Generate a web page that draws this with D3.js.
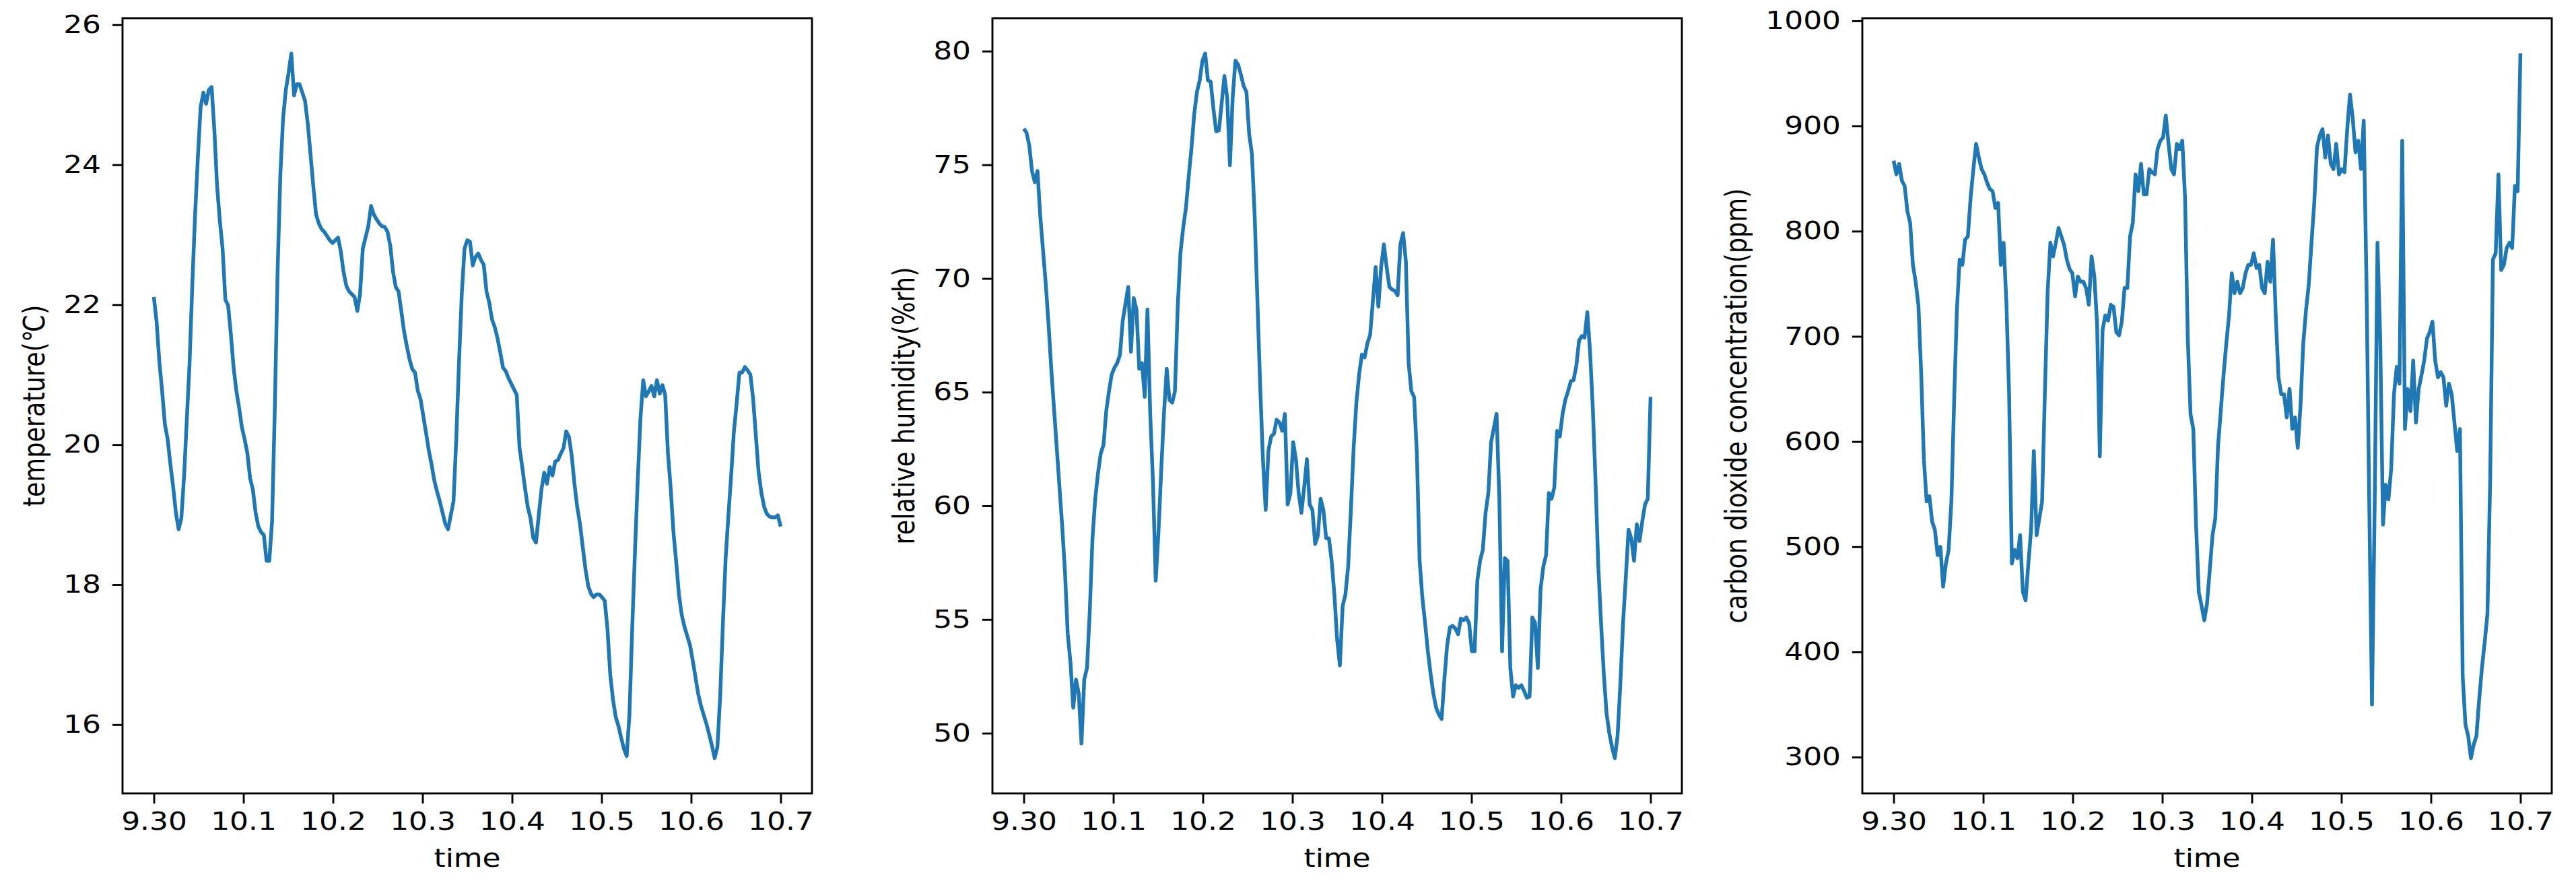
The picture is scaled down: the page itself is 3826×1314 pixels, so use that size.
<!DOCTYPE html>
<html>
<head>
<meta charset="utf-8">
<title>temperature / humidity / CO2</title>
<script src="https://cdn.jsdelivr.net/npm/d3@7/dist/d3.min.js"></script>
<style>
  body { margin:0; background:#fff; }
  svg { display:block; background:#fff; }
</style>
</head>
<body>
<svg></svg>
<script>
// day labels on the x axis (one tick per day)
var xTickLabels = ["9.30","10.1","10.2","10.3","10.4","10.5","10.6","10.7"];

// readings, evenly spaced in time from 9.30 to 10.7
var temperature = [
 22.11,21.75,21.18,20.77,20.29,20.08,19.72,19.40,19.03,18.79,
 18.95,19.56,20.37,21.18,22.31,23.29,24.10,24.82,25.03,24.87,
 25.07,25.11,24.50,23.69,23.20,22.80,22.07,21.99,21.58,21.10,
 20.77,20.53,20.25,20.08,19.88,19.52,19.36,19.03,18.83,18.75,
 18.71,18.34,18.34,18.91,20.53,22.47,23.85,24.66,25.07,25.31,
 25.59,24.99,25.15,25.15,25.03,24.91,24.58,24.14,23.69,23.29,
 23.16,23.08,23.04,22.98,22.92,22.88,22.92,22.96,22.76,22.47,
 22.27,22.19,22.15,22.11,21.91,22.15,22.80,22.96,23.12,23.41,
 23.29,23.22,23.16,23.12,23.11,23.04,22.84,22.47,22.25,22.19,
 21.91,21.62,21.41,21.22,21.08,21.03,20.77,20.65,20.41,20.17,
 19.92,19.72,19.49,19.33,19.19,19.03,18.87,18.79,18.99,19.19,
 20.08,21.18,22.15,22.80,22.92,22.90,22.56,22.68,22.73,22.64,
 22.57,22.19,22.03,21.79,21.68,21.52,21.32,21.10,21.05,20.95,
 20.87,20.79,20.71,19.96,19.68,19.38,19.11,18.95,18.67,18.60,
 18.99,19.36,19.60,19.44,19.68,19.56,19.76,19.78,19.87,19.95,
 20.19,20.11,19.84,19.44,19.11,18.87,18.54,18.22,17.98,17.87,
 17.82,17.86,17.86,17.82,17.77,17.37,16.72,16.36,16.11,15.98,
 15.81,15.65,15.55,16.15,17.37,18.46,19.48,20.37,20.92,20.69,
 20.76,20.84,20.69,20.92,20.73,20.85,20.71,19.88,19.38,18.75,
 18.33,17.86,17.57,17.40,17.27,17.14,16.92,16.68,16.44,16.27,
 16.14,16.01,15.86,15.70,15.52,15.68,16.40,17.45,18.38,18.99,
 19.56,20.19,20.59,21.03,21.03,21.11,21.06,21.00,20.65,20.12,
 19.60,19.31,19.11,19.01,18.97,18.96,18.96,18.99,18.83];

var humidity = [
 76.59,76.42,75.85,74.73,74.23,74.73,72.74,71.25,69.76,68.02,
 66.03,64.29,62.55,60.81,59.07,57.08,54.35,53.10,51.12,52.36,
 51.74,49.55,52.36,52.86,55.34,58.57,60.31,61.43,62.30,62.67,
 64.17,65.04,65.78,66.08,66.28,66.65,68.14,68.89,69.63,66.78,
 69.14,68.64,66.03,66.28,64.79,68.64,64.04,61.06,56.71,58.82,
 61.56,64.04,66.03,64.66,64.54,65.04,68.76,71.13,72.24,73.11,
 74.48,75.72,77.22,78.21,78.71,79.58,79.90,78.71,78.66,77.46,
 76.47,76.52,77.71,78.91,77.96,74.98,77.96,79.58,79.40,78.96,
 78.46,78.21,76.35,75.48,72.74,69.01,65.28,62.05,59.82,62.43,
 63.05,63.17,63.79,63.67,63.30,64.04,60.06,60.56,62.80,62.05,
 60.56,59.69,60.81,62.05,60.06,59.82,58.32,58.70,60.31,59.82,
 58.57,58.57,57.58,56.09,54.10,52.98,55.59,56.09,57.33,59.82,
 62.55,64.54,65.78,66.65,66.53,67.15,67.52,69.01,70.50,68.76,
 70.50,71.50,70.50,69.63,69.51,69.46,69.26,71.50,72.00,70.75,
 66.28,65.04,64.79,62.30,57.58,55.96,54.84,53.60,52.61,51.74,
 51.12,50.82,50.62,52.36,53.85,54.65,54.72,54.60,54.35,55.04,
 54.97,55.09,54.84,53.60,53.60,56.71,57.58,58.08,59.69,60.56,
 62.80,63.42,64.04,60.31,53.60,57.70,57.58,52.86,51.61,52.11,
 51.99,52.11,51.86,51.56,51.61,55.09,54.84,52.86,56.34,57.33,
 57.83,60.56,60.31,60.81,63.30,63.05,64.04,64.66,65.04,65.48,
 65.53,66.15,67.27,67.47,67.40,68.52,66.78,64.29,61.06,57.33,
 54.84,52.61,50.87,50.00,49.38,48.90,49.87,52.11,54.84,56.83,
 58.95,58.57,57.58,59.19,58.45,59.32,60.06,60.31,64.79];

var co2 = [
 867,854,864,848,843,819,808,768,752,730,
 666,583,543,548,524,516,492,500,462,484,
 497,543,639,725,773,768,792,795,832,859,
 883,870,859,854,846,840,838,822,827,768,
 789,733,645,484,497,489,511,457,449,484,
 516,591,511,527,543,645,741,789,776,789,
 803,795,787,773,764,760,738,757,752,752,
 746,730,776,757,712,586,706,720,715,730,
 728,704,701,714,746,746,795,808,854,838,
 864,835,835,859,856,854,878,886,889,910,
 883,859,854,883,878,886,832,698,626,612,
 521,457,444,430,446,478,511,527,596,629,
 663,693,720,760,741,752,741,746,760,768,
 768,779,765,768,746,741,771,752,792,720,
 661,645,645,623,650,612,623,594,634,693,
 725,749,789,827,880,891,897,870,891,864,
 859,883,854,859,856,897,930,907,875,886,
 859,905,752,543,350,543,789,698,521,559,
 545,575,645,671,655,886,612,650,629,677,
 618,650,663,677,698,704,714,677,661,666,
 661,634,655,645,618,591,612,377,331,320,
 299,312,320,355,385,409,436,564,773,779,
 854,763,768,784,789,784,843,838,969];

var temperatureTicks = [16,18,20,22,24,26];
var humidityTicks = [50,55,60,65,70,75,80];
var co2Ticks = [300,400,500,600,700,800,900,1000];

var width = 3826, height = 1314;
var plotTop = 27, plotBottom = 1178, plotWidth = 1024;
var fontSize = 36.6;
var stretch = 1.2;   // the picture is stretched sideways, text too
var lineColour = "#1f77b4";

var svg = d3.select("body").select("svg")
	.attr("width", width)
	.attr("height", height);

drawPanel(182, temperature, temperatureTicks, "temperature(℃)");
drawPanel(1474, humidity, humidityTicks, "relative humidity(%rh)");
drawPanel(2766, co2, co2Ticks, "carbon dioxide concentration(ppm)");

function drawPanel(left, values, yTicks, yLabel) {
	var n = values.length, last = xTickLabels.length - 1;

	// matplotlib style 5% margins round the data
	var x = d3.scaleLinear()
		.domain([-0.05 * last, 1.05 * last])
		.range([left, left + plotWidth]);
	var ext = d3.extent(values), pad = (ext[1] - ext[0]) * 0.05;
	var y = d3.scaleLinear()
		.domain([ext[0] - pad, ext[1] + pad])
		.range([plotBottom, plotTop]);

	var line = d3.line()
		.x(function(d, i) { return x(i * last / (n - 1)); })
		.y(function(d) { return y(d); });

	svg.append("path")
		.datum(values)
		.attr("d", line)
		.attr("fill", "none")
		.attr("stroke", lineColour)
		.attr("stroke-width", 5.5)
		.attr("stroke-linejoin", "round");

	// x axis
	var gx = svg.append("g")
		.attr("transform", "translate(0," + plotBottom + ")")
		.call(d3.axisBottom(x)
			.tickValues(d3.range(last + 1))
			.tickFormat(function(i) { return xTickLabels[i]; })
			.tickSize(15)
			.tickPadding(13));
	styleAxis(gx);
	gx.selectAll("text").attr("transform", "scale(" + stretch + ",1)");

	// y axis
	var gy = svg.append("g")
		.attr("transform", "translate(" + left + ",0)")
		.call(d3.axisLeft(y)
			.tickValues(yTicks)
			.tickFormat(d3.format("d"))
			.tickSize(15)
			.tickPadding(17));
	styleAxis(gy);
	gy.selectAll("text").attr("transform", "translate(-32,0) scale(" + stretch + ",1) translate(32,0)");

	// frame
	svg.append("rect")
		.attr("x", left)
		.attr("y", plotTop)
		.attr("width", plotWidth)
		.attr("height", plotBottom - plotTop)
		.attr("fill", "none")
		.attr("stroke", "black")
		.attr("stroke-width", 2.9);

	// axis titles
	var cx = left + plotWidth / 2;
	svg.append("text")
		.attr("transform", "translate(" + cx + ",1287) scale(" + stretch + ",1)")
		.attr("text-anchor", "middle")
		.attr("font-family", "DejaVu Sans")
		.attr("font-size", fontSize)
		.attr("fill", "black")
		.text("time");

	var bb = gy.node().getBBox();
	var lx = left + bb.x - 28;
	svg.append("text")
		.attr("transform", "translate(" + lx + "," + (plotTop + plotBottom) / 2 + ") scale(" + stretch + ",1) rotate(-90)")
		.attr("text-anchor", "middle")
		.attr("font-family", "DejaVu Sans")
		.attr("font-size", fontSize)
		.attr("fill", "black")
		.text(yLabel);
}

function styleAxis(g) {
	g.attr("font-family", "DejaVu Sans").attr("font-size", fontSize);
	g.select(".domain").remove();
	g.selectAll(".tick line").attr("stroke", "black").attr("stroke-width", 2.9);
	g.selectAll(".tick text").attr("fill", "black");
}
</script>
</body>
</html>
